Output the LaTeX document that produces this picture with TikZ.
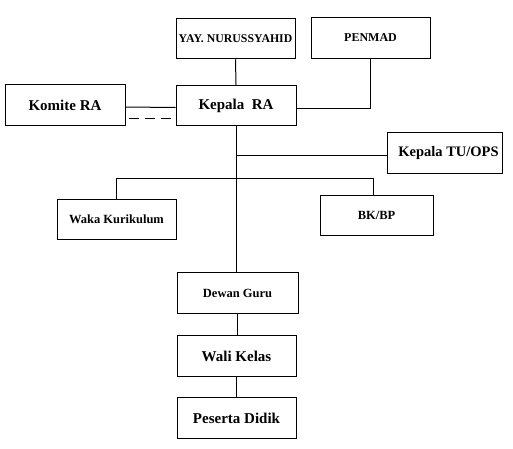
\documentclass[tikz,border=0pt]{standalone}
\usepackage{fontspec}
\setmainfont{Liberation Serif}
\begin{document}
\begin{tikzpicture}[x=1pt,y=-1pt,
  box/.style={draw, line width=1pt, inner sep=0pt, minimum width=#1, minimum height=40.5pt, font=\bfseries},
  box/.default=119pt,
  conn/.style={line width=1pt}]
\useasboundingbox[fill=white] (0,0) rectangle (513,448);
\node[box, font=\bfseries\fontsize{11.8}{13}\selectfont] (yay) at (235.5,38.5) {YAY. NURUSSYAHID};
\node[box, font=\bfseries\fontsize{12}{14}\selectfont] (penmad) at (370.5,38) {PENMAD};
\node[box=120pt, font=\bfseries\fontsize{15}{17}\selectfont] (komite) at (65,105) {Komite RA};
\node[box=120pt, font=\bfseries\fontsize{15}{17}\selectfont] (kepala) at (236,105.5) {Kepala\ \ RA};
\node[box=115pt, font=\bfseries\fontsize{14.5}{17}\selectfont] (tu) at (444.5,153) {\hspace{8pt}Kepala TU/OPS};
\node[box, font=\bfseries\fontsize{12.5}{14}\selectfont] (waka) at (116.5,219.5) {Waka Kurikulum};
\node[box=113pt, font=\bfseries\fontsize{12.5}{14}\selectfont] (bk) at (376.5,215.5) {BK/BP};
\node[box=121pt, font=\bfseries\fontsize{12.5}{14}\selectfont] (dewan) at (237.5,293) {Dewan Guru};
\node[box, font=\bfseries\fontsize{15}{17}\selectfont] (wali) at (236.5,356) {Wali Kelas};
\node[box, font=\bfseries\fontsize{15}{17}\selectfont] (peserta) at (236.5,418) {Peserta Didik};
\coordinate (br) at (236,178);
\draw[conn] (yay.south) -- (kepala.north);
\draw[conn] ([yshift=-2pt]komite.east) -- ([yshift=-2pt]kepala.west);
\draw[conn, dash pattern=on 10pt off 6pt] ([shift={(3pt,-13pt)}]komite.east) -- ([shift={(-2pt,-12.5pt)}]kepala.west);
\draw[conn] ([yshift=-2.5pt]kepala.east) -| (penmad.south);
\draw[conn] (kepala.south) -- (kepala.south |- dewan.north);
\draw[conn] ([yshift=-2pt]kepala.south |- tu.west) -- ([yshift=-2pt]tu.west);
\draw[conn] (waka.north) -- (waka.north |- br) -- ([xshift=-3.5pt]bk.north |- br) -- ([xshift=-3.5pt]bk.north);
\draw[conn] ([xshift=-0.5pt]dewan.south) -- ([xshift=0.5pt]wali.north);
\draw[conn] (wali.south) -- (peserta.north);
\end{tikzpicture}
\end{document}
